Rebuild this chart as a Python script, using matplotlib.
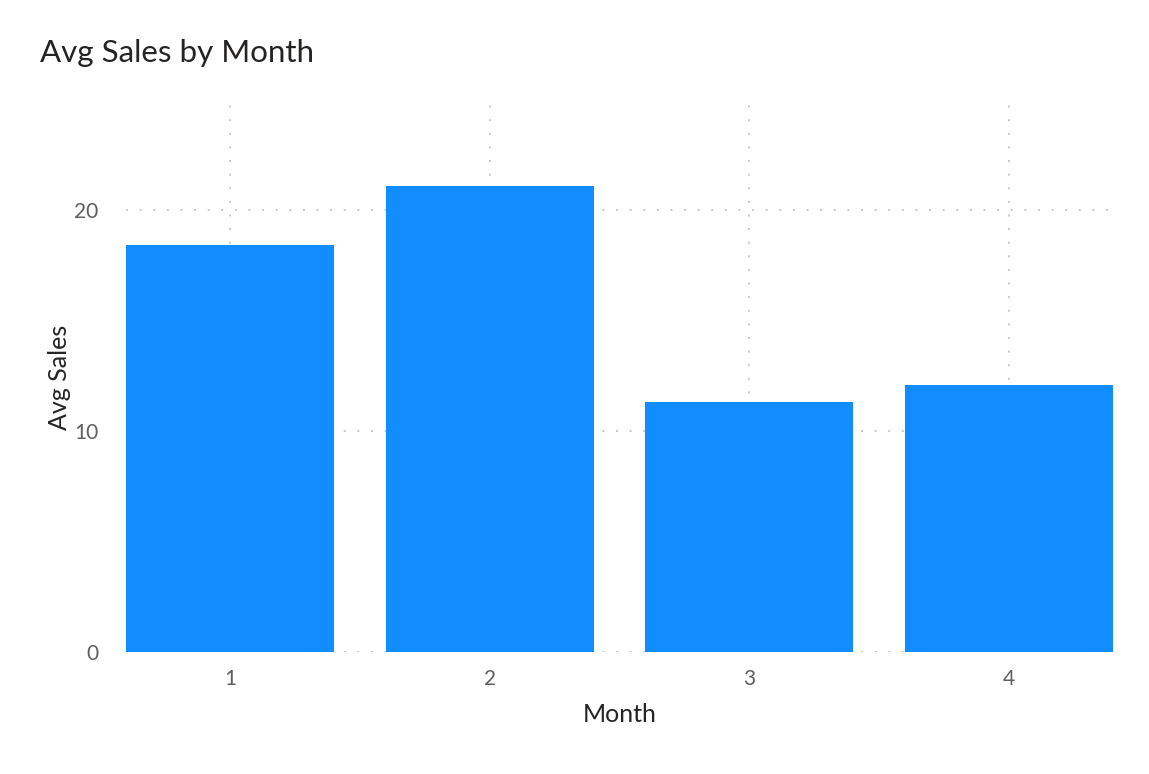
import matplotlib
matplotlib.use("Agg")
import matplotlib.pyplot as plt

months = [1, 2, 3, 4]
avg_sales = [18.4, 21.1, 11.3, 12.1]
month_labels = ["1", "2", "3", "4"]

plt.rcParams['font.family'] = ['Lato', 'DejaVu Sans']

fig = plt.figure(figsize=(11.49, 7.74), dpi=100)
ax = fig.add_axes([126 / 1149, 1 - 652 / 774, (1113 - 126) / 1149, (652 - 103) / 774])

ax.bar(months, avg_sales, width=0.8, color='#118DFF', zorder=2)

ax.set_xlim(0.6, 4.4)
ax.set_ylim(0, 24.84)
ax.set_xticks(months)
ax.set_xticklabels(month_labels)
ax.set_yticks([0, 10, 20])

# dotted grid like the Power BI default
ax.grid(True, color='#C8C8C8', linestyle=(0, (1, 6)), linewidth=1.4, zorder=0)
for s in ax.spines.values():
    s.set_visible(False)
ax.tick_params(length=0, labelsize=15, labelcolor='#605E5C', pad=12)
ax.tick_params(axis='y', pad=20)

ax.set_xlabel("Month", fontsize=18, color='#252423', labelpad=10)
ax.set_ylabel("Avg Sales", fontsize=18, color='#252423', labelpad=2)

fig.text(40 / 1149, 1 - 53 / 774, "Avg Sales by Month", fontsize=22.5, color='#252423', va='center', ha='left')

fig.savefig("out.png", dpi=100, facecolor='white')
